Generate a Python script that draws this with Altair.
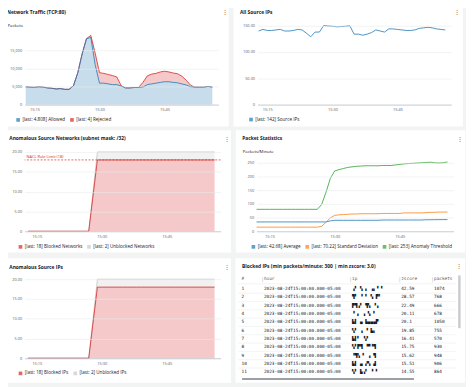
import altair as alt
import pandas as pd

FONT = "Open Sans"
MONO = "DejaVu Sans Mono"
BG = "#f2f3f3"
TXT = "#16191f"
LAB = "#545b64"
GRID = "#e9ebed"
AXIS = "#b6bec9"
BLUE, RED, ORANGE, GREEN, GRAY = "#1f77b4", "#d62728", "#ff7f0e", "#2ca02c", "#c7c7c7"

TITLE_FS = 5.0
TICK_FS = 4.0
LEG_FS = 4.7

# ---------------- data ----------------
panel_titles = [
    "Network Traffic (TCP:80)",
    "All Source IPs",
    "Anomalous Source Networks (subnet mask: /32)",
    "Packet Statistics",
    "Anomalous Source IPs",
    "Blocked IPs (min packets/minute: 300 | min zscore: 3.0)",
]
x_tick_minutes = [15, 30, 45]

minutes_a = list(range(13, 57))  # 15:13 .. 15:56
allowed = [4900, 4800, 4750, 4900, 4800, 4600, 4500, 4300, 4400, 4200, 4200, 5200,
           8800, 14000, 18200, 18500, 11000, 5900, 5900, 5700, 5500, 5500, 5100, 4600,
           4600, 4700, 4700, 4800, 5500, 5700, 5900, 6100, 6300, 6300, 6100, 6000,
           5700, 5400, 4900, 4800, 4800, 4800, 5000, 4808]
rejected = [0] * 15 + [600, 3200, 2900, 2700, 2600, 2500, 2100, 100, 0, 0, 0, 0, 1300,
                       2400, 2700, 2700, 2900, 2900, 2700, 2600, 2500, 2100, 1300, 400,
                       0, 0, 0, 0, 4]
traffic_labels = ["[last: 4,808] Allowed", "[last: 4] Rejected"]

source_ips = [140, 143, 141, 141, 142, 143, 140, 140, 141, 143, 142, 136, 129, 138, 138,
              150.5, 149.5, 149, 148, 148.5, 149, 150, 134, 134, 132, 134, 137, 142, 140,
              138, 144, 144, 143, 142, 141, 141, 142, 145, 146, 147, 146, 144, 143, 142]
ips_labels = ["[last: 142] Source IPs"]

blocked = [0] * 15 + [9] + [18] * 28
unblocked = [0] * 15 + [1] + [2] * 28
net_labels = ["[last: 18] Blocked Networks", "[last: 2] Unblocked Networks"]
ip_labels = ["[last: 18] Blocked IPs", "[last: 2] Unblocked IPs"]
nacl_limit = 18
nacl_text = "NACL Rule Limit (18)"

minutes_s = list(range(12, 57))  # 15:12 .. 15:56
average = [34] * 17 + [38] + [40] * 11 + [41] * 10 + [42, 42, 42.3, 42.5, 42.6, 42.68]
stddev = [15] * 15 + [18, 33, 49, 58, 60, 61, 62, 63, 63] + [64] * 5 + [65] * 5 + [67] * 5 + \
         [68, 69, 69, 70, 70, 70.22]
threshold = [80] * 15 + [98, 142, 193, 220, 225, 229, 233, 235, 237, 238] + [239] * 4 + \
            [240] * 3 + [242, 244, 246, 247, 248, 249, 250, 251, 252, 250, 249, 250, 253]
stat_labels = ["[last: 42.68] Average", "[last: 70.22] Standard Deviation",
               "[last: 253] Anomaly Threshold"]

table_header = ["#", "hour", "ip", "zscore", "packets"]
table_hour = ["2023-08-24T15:00:00.000-05:00"] * 11
table_ip = ["▗▘ ▚ ▖ ▗▖▝ ▘", "▜▘ ▝ ▘ ▚ ▛▘", "▛▜▗▘ ▜▚ ▝▗", "▝ ▖   ▗ ▚ ▘",
            "▙▌ ▄ ▙▄▄▄▛", "▚▘ ▗ ▝ ▙▖", "▙▌▘  ▝▞", "▚▘▛▜ ▝▀▝▜",
            " ▝▜▚ ▘ ▗ ▜", "▙▌ ▄ ▞▚ ▟", "▚▘ ▙▗▘ ▝ ▘"]
table_z = ["42.59", "28.57", "22.49", "20.11", "20.1", "19.85", "16.41", "15.75", "15.62",
           "15.51", "14.55"]
table_packets = ["1074", "768", "666", "678", "1050", "755", "570", "930", "948", "906", "864"]

ONE = pd.DataFrame({"k": [0]})


# ---------------- helpers ----------------
def box(x0, x1, y0, y1):
    return alt.Chart(ONE).mark_rect(fill="white").encode(
        x=alt.value(x0), x2=alt.value(x1), y=alt.value(y0), y2=alt.value(y1))


def text_at(txt, x, y, size, weight="normal", color=TXT, font=FONT, align="left"):
    return alt.Chart(ONE).mark_text(text=txt, align=align, baseline="middle", font=font,
                                    fontSize=size, fontWeight=weight, color=color).encode(
        x=alt.value(x), y=alt.value(y))


def xenc(lo):
    return alt.X("m:Q", scale=alt.Scale(domain=[lo, 57.4], nice=False, zero=False),
                 axis=alt.Axis(values=x_tick_minutes, labelExpr="'15:' + datum.value",
                               title=None, grid=False, ticks=False, domainColor=AXIS,
                               domainWidth=0.7, labelFont=FONT, labelFontSize=TICK_FS,
                               labelColor=LAB, labelPadding=3, zindex=1))


def yenc(field, domain, values, expr, title=None, tx=0, ty=0):
    kw = dict(values=values, labelExpr=expr, grid=True, gridColor=GRID, gridWidth=0.6,
              ticks=False, domain=False, labelFont=FONT, labelFontSize=TICK_FS,
              labelColor=LAB, labelPadding=3, zindex=1)
    if title:
        kw.update(title=title, titleAngle=0, titleX=tx, titleY=ty, titleAlign="left",
                  titleBaseline="middle", titleFont=FONT, titleFontSize=4.4,
                  titleFontWeight="normal", titleColor=TXT)
    else:
        kw.update(title=None)
    return alt.Y(field, scale=alt.Scale(domain=domain, nice=False, zero=True), axis=alt.Axis(**kw))


def legend_layer(labels, colors, lx, ly):
    d = pd.DataFrame({"series": labels})
    return alt.Chart(d).transform_filter("false").mark_square().encode(
        color=alt.Color("series:N", scale=alt.Scale(domain=labels, range=colors),
                        legend=alt.Legend(orient="none", legendX=lx, legendY=ly,
                                          direction="horizontal", title=None,
                                          symbolType="square", symbolSize=14,
                                          symbolStrokeWidth=0, labelFont=FONT,
                                          labelFontSize=LEG_FS, labelColor=TXT,
                                          labelOffset=2, columnPadding=4, padding=0)))


def indep(c):
    return c.resolve_scale(color="independent").resolve_legend(color="independent")


# ---------------- panel 1: network traffic ----------------
df1 = pd.DataFrame({"m": minutes_a, "allowed": allowed, "rejected": rejected})
x1 = xenc(12.75)
yc1 = dict(domain=[0, 21760], values=[0, 5000, 10000, 15000],
           expr="format(datum.value, ',')", title="Packets", tx=-18, ty=0)
base1 = alt.Chart(df1).transform_calculate(total="datum.allowed + datum.rejected")
p1 = alt.layer(
    box(-23, 208.5, -20, 103),
    text_at(panel_titles[0], -18, -13.5, TITLE_FS, "bold"),
    text_at("⋮", 204.5, -13.5, 6, color=LAB, align="center"),
    base1.mark_area(color=BLUE, fillOpacity=0.25).encode(x=x1, y=yenc("allowed:Q", **yc1)),
    base1.mark_area(color=RED, fillOpacity=0.25).encode(
        x=x1, y=yenc("total:Q", **yc1), y2="allowed:Q"),
    base1.mark_line(color=RED, strokeWidth=0.8).encode(x=x1, y=yenc("total:Q", **yc1)),
    base1.mark_line(color=BLUE, strokeWidth=0.8).encode(x=x1, y=yenc("allowed:Q", **yc1)),
    legend_layer(traffic_labels, [BLUE, RED], -9, 93.5),
).properties(width=198, height=80.5)

# ---------------- panel 2: all source IPs ----------------
df2 = pd.DataFrame({"m": minutes_a, "ips": source_ips})
line2 = alt.Chart(df2).mark_line(color=BLUE, strokeWidth=0.8).encode(
    x=xenc(12.75),
    y=yenc("ips:Q", [0, 150], [0, 50, 100, 150],
           "datum.value == 0 ? '0' : format(datum.value, '.2f')"))
p2 = alt.layer(
    box(-24.5, 210, -20, 103),
    text_at(panel_titles[1], -18, -13.5, TITLE_FS, "bold"),
    text_at("⋮", 204.3, -13.5, 6, color=LAB, align="center"),
    line2,
    legend_layer(ips_labels, [BLUE], -9, 93.5),
).properties(width=198, height=80.5)


# ---------------- panels 3 & 5: anomalous sources ----------------
def anomalous(title, labels, top_rect, bot_rect, height, with_nacl, ly):
    dfa = pd.DataFrame({"m": minutes_a, "blocked": blocked, "unblocked": unblocked})
    base = alt.Chart(dfa).transform_calculate(total="datum.blocked + datum.unblocked")
    xa = xenc(12.23)
    yc = dict(domain=[0, 20], values=[0, 5, 10, 15, 20],
              expr="datum.value == 0 ? '0' : format(datum.value, '.2f')")
    layers = [box(-20.7, 210.8, top_rect, bot_rect),
              text_at(title, -15.7, top_rect + 8.5, TITLE_FS, "bold"),
              text_at("⋮", 206.8, top_rect + 9, 6, color=LAB, align="center"),
              base.mark_area(color=RED, fillOpacity=0.25).encode(x=xa, y=yenc("blocked:Q", **yc)),
              base.mark_area(color=GRAY, fillOpacity=0.25).encode(
                  x=xa, y=yenc("total:Q", **yc), y2="blocked:Q"),
              base.mark_line(color="#b9b9b9", strokeWidth=0.7).encode(x=xa, y=yenc("total:Q", **yc)),
              base.mark_line(color=RED, strokeWidth=0.8).encode(x=xa, y=yenc("blocked:Q", **yc))]
    if with_nacl:
        nd = pd.DataFrame({"limit": [nacl_limit], "label": [nacl_text]})
        layers.append(alt.Chart(nd).mark_rule(color=RED, strokeWidth=0.7, strokeDash=[2, 1.5]).encode(
            y=yenc("limit:Q", **yc)))
        layers.append(alt.Chart(nd).mark_text(align="left", baseline="bottom", dx=0, dy=-1,
                                              font=FONT, fontSize=4.0, color=RED).encode(
            x=alt.value(2), y=yenc("limit:Q", **yc), text="label:N"))
    layers.append(legend_layer(labels, [RED, GRAY], -6.6, ly))
    return alt.layer(*layers).properties(width=200.3, height=height)


p3 = anomalous(panel_titles[2], net_labels, -22.3, 102.7, 81, True, 94.2)
p5 = anomalous(panel_titles[4], ip_labels, -21.3, 105.7, 80.7, False, 93.5)

# ---------------- panel 4: packet statistics ----------------
df4 = pd.DataFrame({"m": minutes_s, "average": average, "stddev": stddev, "threshold": threshold})
x4 = xenc(12.0)
yc4 = dict(domain=[0, 289.3], values=[0, 50, 100, 150, 200, 250], expr="format(datum.value, 'd')",
           title="Packets/Minute", tx=-14.7, ty=0)
lines4 = [alt.Chart(df4).mark_line(color=c, strokeWidth=0.8).encode(x=x4, y=yenc(f + ":Q", **yc4))
          for f, c in [("average", BLUE), ("stddev", ORANGE), ("threshold", GREEN)]]
p4 = alt.layer(
    box(-21.2, 213.3, -22.3, 102.7),
    text_at(panel_titles[3], -14.7, -14, TITLE_FS, "bold"),
    text_at("⋮", 207.6, -13.3, 6, color=LAB, align="center"),
    *lines4,
    legend_layer(stat_labels, [BLUE, ORANGE, GREEN], -5.6, 94.2),
).properties(width=201.3, height=81)

# ---------------- panel 6: table ----------------
cells = []
for c, h in enumerate(table_header):
    cells.append({"r": 0, "c": c, "t": h})
for i in range(11):
    row = [str(i + 1), table_hour[i], table_ip[i], table_z[i], table_packets[i]]
    for c, v in enumerate(row):
        cells.append({"r": i + 1, "c": c, "t": v})
cells = pd.DataFrame(cells)
seps = pd.DataFrame({"s": [r + 0.5 for r in range(11)]})

xs = alt.X("c:Q", scale=alt.Scale(domain=[0, 1, 2, 3, 4], range=[3.7, 26.5, 116.5, 166.8, 200.3],
                                  nice=False, zero=False), axis=None)
ys_scale = alt.Scale(domain=[0, 1, 11], range=[-0.6, 10, 95], nice=False, zero=False)
ys = alt.Y("r:Q", scale=ys_scale, axis=None)

tab_text = alt.Chart(cells).mark_text(align="left", baseline="middle", font=MONO, fontSize=4.5).encode(
    x=xs, y=ys, text="t:N",
    color=alt.condition("datum.r == 0", alt.value(LAB), alt.value(TXT)))
tab_bars = alt.Chart(cells).transform_filter("datum.r == 0 && datum.c > 0").mark_text(
    text="|", align="center", baseline="middle", font=MONO, fontSize=5, dx=-1.6, color="#aab7b8").encode(
    x=xs, y=ys)
tab_lines = alt.Chart(seps).mark_rule(color="#eaeded", strokeWidth=0.6).encode(
    y=alt.Y("s:Q", scale=ys_scale, axis=None), x=alt.value(0), x2=alt.value(223))
p6 = alt.layer(
    box(-2.5, 232, -21.3, 105.7),
    text_at(panel_titles[5], 4, -13.3, TITLE_FS, "bold"),
    text_at("⋮", 226.3, -13.6, 6, color=LAB, align="center"),
    tab_lines, tab_text, tab_bars,
    alt.Chart(ONE).mark_rect(fill="#c9cccf", cornerRadius=1).encode(
        x=alt.value(225), x2=alt.value(227.5), y=alt.value(-4), y2=alt.value(50)),
    alt.Chart(ONE).mark_rect(fill="#9aa0a6", cornerRadius=1).encode(
        x=alt.value(4), x2=alt.value(180), y=alt.value(101), y2=alt.value(103)),
).properties(width=228, height=100)

row1 = indep(alt.hconcat(p1, p2, spacing=4))
row2 = indep(alt.hconcat(p3, p4, spacing=4))
row3 = indep(alt.hconcat(p5, p6, spacing=4))
top2 = indep(alt.vconcat(row1, row2, spacing=3))
chart = indep(alt.vconcat(top2, row3, spacing=5)).properties(
    background=BG, padding={"left": -6, "top": -6, "right": 0, "bottom": 0}
).configure_view(stroke=None)

chart.save("out.html", embed_options={"renderer": "svg", "actions": False})
